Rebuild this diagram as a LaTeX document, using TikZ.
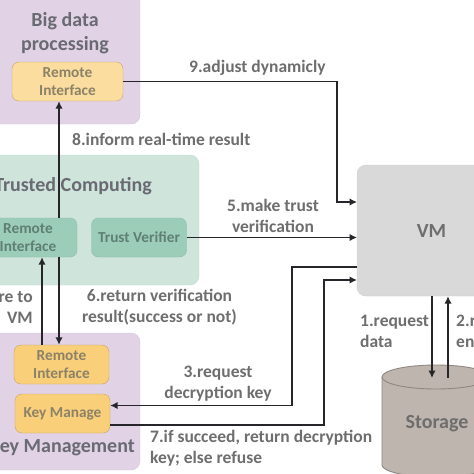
\documentclass[tikz,border=0pt]{standalone}
\usepackage{fontspec}
\setmainfont{Carlito}
\usetikzlibrary{arrows.meta}
\definecolor{purp}{HTML}{E1D2E6}
\definecolor{purpB}{HTML}{D5C8DC}
\definecolor{grn}{HTML}{CFE5DC}
\definecolor{grnB}{HTML}{C4DDD2}
\definecolor{teal}{HTML}{9CCDB9}
\definecolor{tealB}{HTML}{8CBBA8}
\definecolor{orgL}{HTML}{FBDD9F}
\definecolor{orgD}{HTML}{F9CF7A}
\definecolor{orgB}{HTML}{C9A268}
\definecolor{vmg}{HTML}{D9D9D9}
\definecolor{stor}{HTML}{BDB5AE}
\definecolor{storB}{HTML}{8F8780}
\definecolor{txt}{HTML}{6E6E6E}
\definecolor{ttl}{HTML}{6A6A72}
\definecolor{lin}{HTML}{26262A}
\definecolor{otxt}{HTML}{8C8268}
\definecolor{ttxt}{HTML}{5F7F74}
\tikzset{
 x=1pt,y=-1pt,
 panel/.style={rounded corners=9pt,inner sep=0pt,anchor=center},
 inner/.style={rounded corners=7pt,inner sep=0pt,align=center,font=\fontsize{15.3}{18}\selectfont\bfseries},
 ttlt/.style={text=ttl,align=center,inner sep=0pt,font=\fontsize{20}{24}\selectfont\bfseries},
 lab/.style={text=txt,align=left,inner sep=0pt,font=\fontsize{17.5}{21.3}\selectfont\bfseries},
 lbc/.style={lab,align=center},
 conn/.style={draw=lin,line width=1.5pt},
 arr/.style={conn,-{Latex[length=7.5pt,width=7.5pt]}},
}
\begin{document}
\begin{tikzpicture}
\useasboundingbox (0,0) rectangle (474,474);
\clip (0,0) rectangle (474,474);
\fill[white] (0,0) rectangle (474,474);
% panels
\node[panel,fill=purp,draw=purpB,minimum width=180pt,minimum height=164pt] (bd) at (50,42) {};
\node[panel,fill=grn,draw=grnB,minimum width=239pt,minimum height=130pt] (tc) at (79.5,220) {};
\node[panel,fill=purp,draw=purpB,minimum width=180pt,minimum height=137pt] (km) at (50,401.5) {};
\node[panel,fill=vmg,draw=vmg!95!black,minimum width=163pt,minimum height=131pt] (vm) at (438.5,230.5) {};
% titles
\node[ttlt] (t1) at (65,33) {Big data\\processing};
\node[ttlt] (t2) at (73,186) {Trusted Computing};
\node[ttlt] (t3) at (62,448) {Key Management};
\node[font=\fontsize{20}{22}\selectfont\bfseries,text=txt,inner sep=0pt] (t4) at (431.5,231) {VM};
% inner boxes
\node[inner,text=otxt,fill=orgL,draw=orgB,minimum width=111pt,minimum height=39pt] (ri1) at (67.5,81.5) {Remote\\Interface};
\node[inner,text=ttxt,fill=teal,draw=tealB,minimum width=98pt,minimum height=39pt] (ri2) at (28,237.5) {Remote\\Interface};
\node[inner,text=ttxt,fill=teal,draw=tealB,minimum width=95pt,minimum height=39pt] (tv) at (139,237.5) {Trust Verifier};
\node[inner,text=otxt,fill=orgD,draw=orgB,minimum width=95pt,minimum height=39pt] (ri3) at (61.5,364.5) {Remote\\Interface};
\node[inner,text=otxt,fill=orgD,draw=orgB,minimum width=95pt,minimum height=39pt] (kmg) at (62.5,413.5) {Key Manage};
% storage
\path[fill=stor,draw=storB,line width=0.9pt] (382,377) arc[start angle=180,end angle=360,x radius=54,y radius=12] -- (490,465) arc[start angle=0,end angle=180,x radius=54,y radius=12] -- cycle;
\path[draw=storB,line width=0.9pt] (382,377) arc[start angle=180,end angle=0,x radius=54,y radius=12];
\node[font=\fontsize{20}{22}\selectfont\bfseries,text=txt,inner sep=0pt] (st) at (437,424) {Storage};
% anchors
\coordinate (st1) at (432,378);
\coordinate (st2) at (448,378);
\coordinate (v1) at (vm.south -| st1);
\coordinate (v2) at (vm.south -| st2);
\coordinate (v9) at (357,202);
\coordinate (v3) at (357,267);
\coordinate (v7) at (357,280);
% connectors
\draw[arr] (ri2.north -| 59,0) -- (ri1.south -| 59,0);
\draw[arr] (ri3.north -| 42,0) -- (ri2.south -| 42,0);
\draw[arr] (ri2.south -| 59,0) -- (ri3.north -| 59,0);
\draw[arr] (ri1.east) -- (337,81.5) -- (337,202) -- (v9);
\draw[arr] (tv.east) -- (357,237.5);
\draw[arr] (v3) -- (292,267) -- (292,405.5) -- (kmg.east |- 0,405.5);
\draw[arr] (kmg.east |- 0,425) -- (324,425) -- (324,280) -- (v7);
\draw[arr] (v1) -- (st1);
\draw[arr] (st2) -- (v2);
% labels
\node[lab,anchor=west] (l9) at (189,68) {9.adjust dynamicly};
\node[lab,anchor=west] (l8) at (72,139) {8.inform real-time result};
\node[lbc] (l5) at (273,216) {5.make trust\\verification};
\node[lab,anchor=east,align=right] (l4) at (33,307.5) {re to\\VM};
\node[lbc] (l6) at (159.5,307.5) {6.return verification\\result(success or not)};
\node[lbc] (l3) at (218,383.5) {3.request\\decryption key};
\node[lab,anchor=west] (l7) at (150,448.5) {7.if succeed, return decryption\\key; else refuse};
\node[lab,anchor=west] (l1) at (360,331.5) {1.request\\data};
\node[lab,anchor=west] (l2) at (456,331.5) {2.r\\en};
\end{tikzpicture}
\end{document}
